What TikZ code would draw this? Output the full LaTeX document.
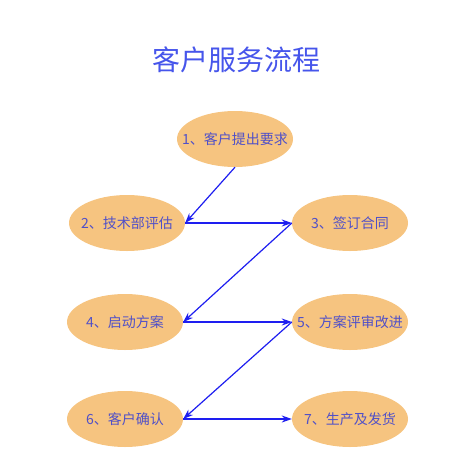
\documentclass[tikz,border=0pt]{standalone}
\usepackage{fontspec}
\setmainfont{Noto Sans CJK SC}
\usetikzlibrary{shapes.geometric,arrows.meta}
\definecolor{stepfill}{RGB}{246,196,128}
\definecolor{steptext}{RGB}{80,80,200}
\definecolor{titleblue}{RGB}{70,85,235}
\definecolor{flowblue}{RGB}{30,30,240}

\begin{document}
\begin{tikzpicture}[x=1pt,y=-1pt,
  stepnode/.style={ellipse,fill=stepfill,text=steptext,minimum width=116pt,minimum height=56pt,inner xsep=-16pt,inner ysep=0pt,font=\fontsize{14pt}{16pt}\selectfont},
  flow/.style={draw=flowblue,line width=1.2pt,-{Stealth[length=10pt,width=7pt]}}]
\useasboundingbox (0,0) rectangle (474,474);

\node [text=titleblue,font=\fontsize{28pt}{30pt}\selectfont] at (236,60) (title) {客户服务流程};

\node [stepnode] at (235,139) (q1) {1、客户提出要求};
\node [stepnode] at (127,223) (q2) {2、技术部评估};
\node [stepnode] at (350,223) (q3) {3、签订合同};
\node [stepnode] at (125,322) (q4) {4、启动方案};
\node [stepnode] at (350,322) (q5) {5、方案评审改进};
\node [stepnode] at (125,419) (q6) {6、客户确认};
\node [stepnode] at (350,419) (q7) {7、生产及发货};

\draw [flow] (q1.south) to (q2.east);
\draw [flow] (q2.east) to (q3.west);
\draw [flow] (q3.west) to (q4.east);
\draw [flow] (q4.east) to (q5.west);
\draw [flow] (q5.west) to (q6.east);
\draw [flow] (q6.east) to (q7.west);

\end{tikzpicture}
\end{document}
